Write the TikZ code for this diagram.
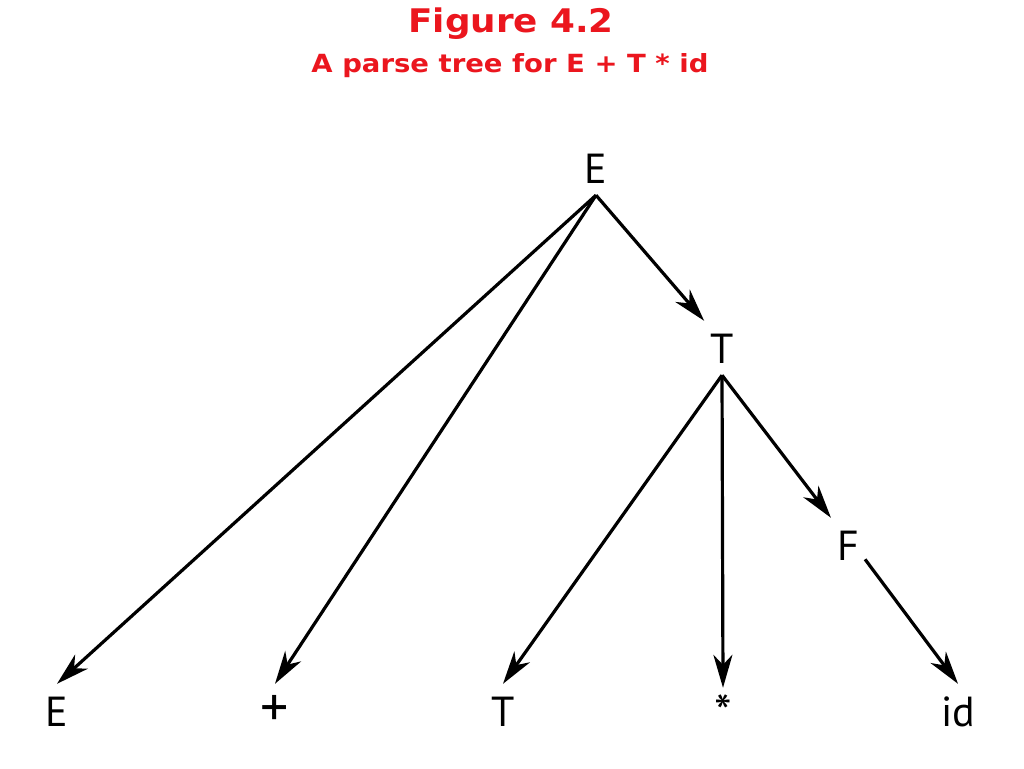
\documentclass[tikz,border=0pt]{standalone}
\usepackage{fontspec}
\setmainfont{PT Sans}
\newfontfamily\titlefont[FakeStretch=1.1]{DejaVu Sans}
\usetikzlibrary{arrows.meta}
\definecolor{figred}{RGB}{235,22,30}
\tikzset{
  sym/.style={font=\fontsize{42}{42}\selectfont, text height=30pt, text depth=0pt,
              inner xsep=6pt, inner ysep=12pt, anchor=center},
  arr/.style={line width=3.2pt, -{Stealth[length=33pt,width=19pt,inset=10pt]}},
  ttl/.style={text=figred, font=\titlefont\bfseries\fontsize{32.5}{32.5}\selectfont},
  sub/.style={text=figred, font=\titlefont\bfseries\fontsize{25}{25}\selectfont}
}
\begin{document}
\begin{tikzpicture}[x=1pt,y=-1pt]
\useasboundingbox[fill=white] (0,0) rectangle (1024,768);
\node[ttl] (title) at (511,24) {Figure 4.2};
\node[sub] (subtitle) at (510,66) {A parse tree for E + T * id};
\node[sym] (E) at (596,168) {E};
\node[sym] (Tm) at (722,348) {T};
\node[sym] (F) at (848,545) {F};
\node[sym] (Eb) at (57,711) {E};
\node[sym, font=\fontsize{56}{56}\selectfont] (plus) at (275,711) {+};
\node[sym] (Tb) at (503,711) {T};
\node[sym, font=\fontsize{50}{50}\selectfont] (star) at (723,715) {*};
\node[sym] (id) at (958,711) {id};
\draw[arr] (E.south) -- (Eb.north);
\draw[arr] (E.south) -- (plus.north);
\draw[arr] (E.south) -- (Tm.north west);
\draw[arr] (Tm.south) -- (Tb.north);
\draw[arr] (Tm.south) -- (star.north);
\draw[arr] (Tm.south) -- (F.north west);
\draw[arr] (F.-40) -- (id.north);
\end{tikzpicture}
\end{document}
